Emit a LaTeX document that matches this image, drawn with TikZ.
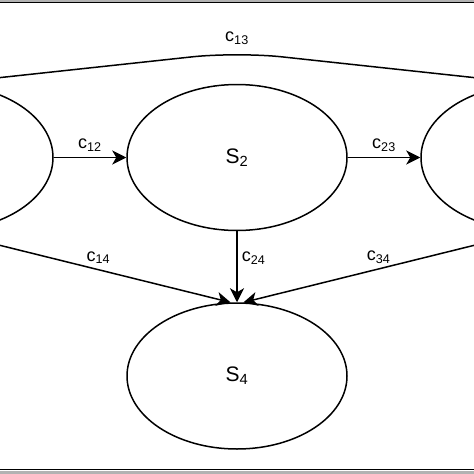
\documentclass[tikz,border=0pt]{standalone}
\usepackage{fontspec}
\setmainfont{Liberation Sans}
\usetikzlibrary{arrows.meta}
\usetikzlibrary{positioning}
\usetikzlibrary{shapes}
\tikzset{
    state/.style={draw,ellipse,line width=1.5pt,inner sep=0pt,minimum width=220pt,minimum height=146pt,
    font=\fontsize{21}{23}\selectfont},
    edge/.style={line width=1.5pt},
    dedge/.style = {-{Stealth[length=14pt,width=14pt,inset=4pt]},line width=1.5pt},
    cost/.style={font=\fontsize{18}{20}\selectfont,inner sep=2pt}
}

\begin{document}
\begin{tikzpicture}[x=1pt,y=-1pt]
\useasboundingbox (0,0) rectangle (474,474);
\begin{scope}
\clip (0,0) rectangle (474,474);
\node[state] (s1) at (-57,157.5) {};
\node[state] (s2) at (237,157.5) {S\textsubscript{2}};
\node[state] (s3) at (531,157.5) {};
\node[state] (s4) at (237,376) {S\textsubscript{4}};
\coordinate (top) at (237,52);

% costs between states
\draw[dedge]  (s1) --  (s2) node[cost, midway, above=3pt]  {c\textsubscript{12}};
\draw[dedge]  (s2) --  (s3) node[cost, midway, above=3pt]  {c\textsubscript{23}};
\draw[dedge]  (s2.south) --  (s4.north) node[cost, pos=0.38, right=2pt]  {c\textsubscript{24}};
\draw[dedge]  (s1.south) --  (s4.95) node[cost, pos=0.54, above=3pt]  {c\textsubscript{14}};
\draw[dedge]  (s3.south) --  (s4.85) node[cost, pos=0.53, above=3pt]  {c\textsubscript{34}};
\draw[dedge, rounded corners=45pt]  (s1.north) --  (top) --  (s3.north);
\node[cost, above=5pt] (c13) at (top) {c\textsubscript{13}};
\end{scope}

% frame of the crop
\fill[gray!60] (0,0) rectangle (474,1.5);
\draw[line width=1.5pt] (0,2.5) -- (474,2.5);
\draw[line width=1.5pt] (0,469.5) -- (474,469.5);
\fill[gray!60] (0,470.5) rectangle (474,474);
\end{tikzpicture}
\end{document}
